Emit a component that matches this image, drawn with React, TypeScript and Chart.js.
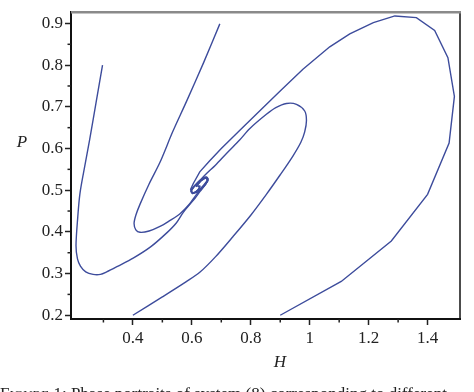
import React, { useEffect, useRef } from "react";
import { Chart, registerables } from "chart.js";
Chart.register(...registerables);

// Tick values
const xMajorTicks = [0.4, 0.6, 0.8, 1.0, 1.2, 1.4];
const xMinorTicks = [0.3, 0.5, 0.7, 0.9, 1.1, 1.3];
const yMajorTicks = [0.2, 0.3, 0.4, 0.5, 0.6, 0.7, 0.8, 0.9];
const yMinorTicks = [0.25, 0.35, 0.45, 0.55, 0.65, 0.75, 0.85];

// Trajectory A: starts at (0.3, 0.8)
const trajA_H = [0.297, 0.275, 0.253, 0.232, 0.22, 0.213, 0.207, 0.212, 0.222, 0.24, 0.265, 0.29, 0.311, 0.35, 0.401, 0.46, 0.514, 0.548, 0.571, 0.592, 0.61, 0.628, 0.645, 0.655, 0.65, 0.635, 0.615, 0.6, 0.598, 0.608, 0.622, 0.628, 0.62];
const trajA_P = [0.8, 0.71, 0.62, 0.54, 0.49, 0.436, 0.367, 0.335, 0.318, 0.304, 0.298, 0.298, 0.304, 0.318, 0.337, 0.364, 0.397, 0.422, 0.447, 0.465, 0.48, 0.497, 0.512, 0.525, 0.532, 0.527, 0.515, 0.503, 0.496, 0.494, 0.502, 0.51, 0.51];

// Trajectory B: starts at (0.7, 0.9)
const trajB_H = [0.695, 0.64, 0.582, 0.535, 0.492, 0.455, 0.424, 0.41, 0.404, 0.41, 0.424, 0.455, 0.492, 0.525, 0.559, 0.59, 0.616, 0.635, 0.65, 0.655, 0.645, 0.628, 0.61, 0.6, 0.602, 0.615, 0.625, 0.622];
const trajB_P = [0.899, 0.806, 0.713, 0.64, 0.567, 0.515, 0.466, 0.44, 0.42, 0.405, 0.399, 0.402, 0.413, 0.427, 0.443, 0.465, 0.49, 0.506, 0.518, 0.527, 0.531, 0.524, 0.511, 0.501, 0.494, 0.497, 0.505, 0.51];

// Trajectory C: starts at (0.4, 0.2)
const trajC_H = [0.4, 0.5, 0.58, 0.627, 0.68, 0.74, 0.8, 0.853, 0.9, 0.943, 0.97, 0.983, 0.989, 0.983, 0.955, 0.921, 0.885, 0.853, 0.797, 0.763, 0.72, 0.68, 0.65, 0.628, 0.608, 0.598, 0.603, 0.62, 0.64, 0.652, 0.648, 0.632, 0.618, 0.615];
const trajC_P = [0.2, 0.244, 0.28, 0.303, 0.34, 0.389, 0.44, 0.49, 0.537, 0.582, 0.615, 0.64, 0.667, 0.69, 0.706, 0.708, 0.698, 0.682, 0.648, 0.621, 0.59, 0.56, 0.54, 0.524, 0.508, 0.498, 0.492, 0.498, 0.512, 0.524, 0.53, 0.523, 0.512, 0.508];

// Trajectory D: starts at (0.9, 0.2)
const trajD_H = [0.9, 1.107, 1.277, 1.4, 1.473, 1.491, 1.469, 1.424, 1.362, 1.289, 1.216, 1.136, 1.068, 0.977, 0.898, 0.83, 0.763, 0.7, 0.66, 0.627, 0.605, 0.596, 0.602, 0.622, 0.642, 0.654, 0.648, 0.63, 0.618, 0.617];
const trajD_P = [0.2, 0.281, 0.378, 0.49, 0.613, 0.725, 0.818, 0.883, 0.914, 0.918, 0.902, 0.875, 0.844, 0.79, 0.737, 0.69, 0.644, 0.6, 0.57, 0.544, 0.516, 0.502, 0.492, 0.496, 0.51, 0.522, 0.53, 0.522, 0.512, 0.508];

const LINE_COLOR = "#3d4c9c";
const SERIF = "'Liberation Serif', 'Times New Roman', serif";

const toPoints = (hs: number[], ps: number[]) => hs.map((h, i) => ({ x: h, y: ps[i] }));

const decorPlugin = {
  id: "decor",
  afterDraw(chart: any) {
    const { ctx, chartArea, scales } = chart;
    const { left, right, top, bottom } = chartArea;
    const x = scales.x;
    const y = scales.y;
    ctx.save();
    ctx.strokeStyle = "#222";
    ctx.lineWidth = 1.5;
    xMinorTicks.forEach((v) => {
      const px = x.getPixelForValue(v);
      ctx.beginPath();
      ctx.moveTo(px, bottom);
      ctx.lineTo(px, bottom + 3.5);
      ctx.stroke();
    });
    yMinorTicks.forEach((v) => {
      const py = y.getPixelForValue(v);
      ctx.beginPath();
      ctx.moveTo(left, py);
      ctx.lineTo(left - 3.5, py);
      ctx.stroke();
    });
    // right border
    ctx.strokeStyle = "#111";
    ctx.lineWidth = 1.5;
    ctx.beginPath();
    ctx.moveTo(right, top);
    ctx.lineTo(right, bottom + 1);
    ctx.stroke();
    // top border (gray)
    ctx.strokeStyle = "#8a8a8a";
    ctx.lineWidth = 2.5;
    ctx.beginPath();
    ctx.moveTo(left, top);
    ctx.lineTo(right + 1, top);
    ctx.stroke();
    // axis titles
    ctx.fillStyle = "#222";
    ctx.textAlign = "center";
    ctx.textBaseline = "middle";
    ctx.font = `italic 17px ${SERIF}`;
    ctx.fillText("P", 22, 143);
    ctx.fillText("H", 280, 363);
    // caption (cut off at the bottom of the picture)
    ctx.textAlign = "left";
    ctx.textBaseline = "alphabetic";
    let cx = 0;
    const seg = (t: string, size: number) => {
      ctx.font = `${size}px ${SERIF}`;
      ctx.fillText(t, cx, 399);
      cx += ctx.measureText(t).width;
    };
    seg("F", 17);
    seg("IGURE", 13);
    seg(" 1: Phase portraits of system (8) corresponding to different", 17);
    ctx.restore();
  },
};

export default function App() {
  const ref = useRef<HTMLCanvasElement | null>(null);
  useEffect(() => {
    if (!ref.current) return;
    const mk = (hs: number[], ps: number[]) => ({
      data: toPoints(hs, ps),
      showLine: true,
      borderColor: LINE_COLOR,
      borderWidth: 1.4,
      pointRadius: 0,
      tension: 0.3,
      fill: false,
    });
    const chart = new Chart(ref.current, {
      type: "scatter",
      data: {
        datasets: [
          mk(trajA_H, trajA_P),
          mk(trajB_H, trajB_P),
          mk(trajC_H, trajC_P),
          { ...mk(trajD_H, trajD_P), tension: 0 },
        ],
      },
      options: {
        animation: false,
        responsive: false,
        layout: { padding: { left: 0, top: 1, right: 14, bottom: 0 } },
        plugins: { legend: { display: false }, tooltip: { enabled: false } },
        scales: {
          x: {
            type: "linear",
            min: 0.19,
            max: 1.51,
            afterBuildTicks: (s: any) => {
              s.ticks = xMajorTicks.map((v) => ({ value: v }));
            },
            afterFit: (s: any) => {
              s.height = 73;
            },
            ticks: {
              color: "#222",
              font: { family: SERIF, size: 17 },
              padding: 3,
              maxRotation: 0,
              callback: (v: any) => String(Math.round(Number(v) * 10) / 10),
            },
            grid: {
              display: true,
              drawOnChartArea: false,
              drawTicks: true,
              tickLength: 6,
              tickColor: "#222",
              tickWidth: 1.5,
            },
            border: { display: true, color: "#111", width: 2 },
          },
          y: {
            type: "linear",
            min: 0.191,
            max: 0.927,
            afterBuildTicks: (s: any) => {
              s.ticks = yMajorTicks.map((v) => ({ value: v }));
            },
            afterFit: (s: any) => {
              s.width = 71;
            },
            ticks: {
              color: "#222",
              font: { family: SERIF, size: 17 },
              padding: 2,
              callback: (v: any) => Number(v).toFixed(1),
            },
            grid: {
              display: true,
              drawOnChartArea: false,
              drawTicks: true,
              tickLength: 6,
              tickColor: "#222",
              tickWidth: 1.5,
            },
            border: { display: true, color: "#111", width: 2 },
          },
        },
      },
      plugins: [decorPlugin],
    } as any);
    return () => chart.destroy();
  }, []);
  return (
    <div style={{ position: "absolute", left: 0, top: 0, width: 474, height: 392, overflow: "hidden", background: "#fff" }}>
      <canvas ref={ref} width={474} height={392} style={{ display: "block" }} />
    </div>
  );
}
